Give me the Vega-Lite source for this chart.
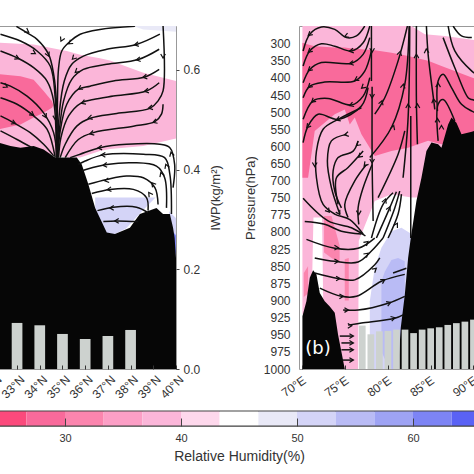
{
"$schema":"https://vega.github.io/schema/vega-lite/v6.json",
"padding":{"left":-25,"top":25,"right":0,"bottom":0},
"background":"white",
"config":{"font":"Liberation Sans","view":{"stroke":"#999"},"axis":{"grid":false,"domain":false,"labelColor":"#333","titleColor":"#333","titleFontWeight":"normal","labelFontSize":12,"titleFontSize":13,"tickColor":"#444"}},
"datasets":{
"a_shade":[
{"id":"a1","rh":36.67,"lat":32.2,"p":297,"p2":614},{"id":"a1","rh":36.67,"lat":33.73,"p":302,"p2":614},{"id":"a1","rh":36.67,"lat":35.19,"p":321,"p2":633},{"id":"a1","rh":36.67,"lat":35.78,"p":332,"p2":633},{"id":"a1","rh":36.67,"lat":36.65,"p":342,"p2":614},{"id":"a1","rh":36.67,"lat":37.09,"p":349,"p2":608},{"id":"a1","rh":36.67,"lat":38.56,"p":385,"p2":599},{"id":"a1","rh":36.67,"lat":40,"p":409,"p2":577},
{"id":"a2","rh":26.67,"lat":32.2,"p":389,"p2":550},{"id":"a2","rh":26.67,"lat":33.15,"p":395,"p2":536},{"id":"a2","rh":26.67,"lat":33.73,"p":405,"p2":516},{"id":"a2","rh":26.67,"lat":34.17,"p":438,"p2":502},{"id":"a2","rh":26.67,"lat":34.54,"p":468,"p2":487},{"id":"a2","rh":26.67,"lat":34.6,"p":480,"p2":480},
{"id":"a3","rh":50,"lat":36.44,"p":750,"p2":770},{"id":"a3","rh":50,"lat":36.8,"p":750,"p2":800},{"id":"a3","rh":50,"lat":37.2,"p":750,"p2":805},{"id":"a3","rh":50,"lat":37.8,"p":750,"p2":795},{"id":"a3","rh":50,"lat":38.5,"p":750,"p2":770},{"id":"a3","rh":50,"lat":39.1,"p":750,"p2":750},
{"id":"a4","rh":50,"lat":39.7,"p":770,"p2":820},{"id":"a4","rh":50,"lat":40,"p":780,"p2":830},
{"id":"a5","rh":60,"lat":39.87,"p":800,"p2":809},{"id":"a5","rh":60,"lat":40,"p":805,"p2":838},
{"id":"a6","rh":46.67,"lat":38.12,"p":248,"p2":248},{"id":"a6","rh":46.67,"lat":38.56,"p":248,"p2":258},{"id":"a6","rh":46.67,"lat":40,"p":248,"p2":265}
],
"a_terrain":[
{"lat":32.2,"p":589},{"lat":32.71,"p":599},{"lat":33.15,"p":604},{"lat":33.73,"p":599},{"lat":34.17,"p":609},{"lat":34.68,"p":633},{"lat":35.63,"p":633},{"lat":35.85,"p":653},{"lat":36.14,"p":711},{"lat":36.44,"p":765},{"lat":36.95,"p":801},{"lat":37.31,"p":803},{"lat":37.97,"p":794},{"lat":38.41,"p":774},{"lat":39.14,"p":765},{"lat":39.43,"p":774},{"lat":39.73,"p":774},{"lat":39.87,"p":794},{"lat":39.94,"p":809},{"lat":40,"p":838}
],
"a_lines":[
{"id":1,"lat":38.19,"p":249},{"id":1,"lat":36.65,"p":258},{"id":1,"lat":35.78,"p":272},{"id":1,"lat":35.27,"p":297},{"id":1,"lat":34.97,"p":321},{"id":1,"lat":34.83,"p":370},{"id":1,"lat":34.78,"p":467},{"id":1,"lat":34.75,"p":633},
{"id":2,"lat":39.29,"p":272},{"id":2,"lat":38.26,"p":302},{"id":2,"lat":36.95,"p":316},{"id":2,"lat":35.92,"p":336},{"id":2,"lat":35.41,"p":360},{"id":2,"lat":35.08,"p":409},{"id":2,"lat":34.87,"p":497},{"id":2,"lat":34.78,"p":633},
{"id":3,"lat":39.26,"p":316},{"id":3,"lat":38.34,"p":346},{"id":3,"lat":36.95,"p":360},{"id":3,"lat":35.92,"p":375},{"id":3,"lat":35.41,"p":404},{"id":3,"lat":35.05,"p":467},{"id":3,"lat":34.86,"p":555},{"id":3,"lat":34.78,"p":633},
{"id":4,"lat":39.26,"p":375},{"id":4,"lat":38.63,"p":397},{"id":4,"lat":37.24,"p":409},{"id":4,"lat":36.22,"p":424},{"id":4,"lat":35.7,"p":433},{"id":4,"lat":35.19,"p":477},{"id":4,"lat":34.9,"p":555},{"id":4,"lat":34.8,"p":633},
{"id":5,"lat":39.26,"p":414},{"id":5,"lat":38.7,"p":438},{"id":5,"lat":37.24,"p":453},{"id":5,"lat":36.36,"p":463},{"id":5,"lat":35.85,"p":472},{"id":5,"lat":35.27,"p":511},{"id":5,"lat":34.93,"p":575},{"id":5,"lat":34.83,"p":633},
{"id":6,"lat":39.43,"p":248},{"id":6,"lat":39.43,"p":438},{"id":6,"lat":39.21,"p":467},{"id":6,"lat":38.85,"p":489},{"id":6,"lat":37.39,"p":504},{"id":6,"lat":36.22,"p":518},{"id":6,"lat":35.63,"p":541},{"id":6,"lat":35.12,"p":594},{"id":6,"lat":34.9,"p":633},
{"id":7,"lat":39.43,"p":477},{"id":7,"lat":39.36,"p":506},{"id":7,"lat":39.07,"p":528},{"id":7,"lat":38.12,"p":541},{"id":7,"lat":36.36,"p":560},{"id":7,"lat":35.7,"p":580},{"id":7,"lat":35.12,"p":633},
{"id":8,"lat":39.87,"p":721},{"id":8,"lat":39.94,"p":653},{"id":8,"lat":39.73,"p":604},{"id":8,"lat":39.29,"p":594},{"id":8,"lat":37.82,"p":594},{"id":8,"lat":36.65,"p":604},{"id":8,"lat":35.78,"p":623},{"id":8,"lat":35.34,"p":633},
{"id":9,"lat":39.8,"p":774},{"id":9,"lat":39.73,"p":682},{"id":9,"lat":39.5,"p":633},{"id":9,"lat":38.56,"p":623},{"id":9,"lat":36.8,"p":625},{"id":9,"lat":36,"p":643},{"id":9,"lat":35.7,"p":653},
{"id":10,"lat":39.58,"p":765},{"id":10,"lat":39.5,"p":692},{"id":10,"lat":39.14,"p":658},{"id":10,"lat":38.12,"p":648},{"id":10,"lat":36.95,"p":653},{"id":10,"lat":36.07,"p":667},{"id":10,"lat":35.85,"p":672},
{"id":11,"lat":39.21,"p":760},{"id":11,"lat":39.07,"p":721},{"id":11,"lat":38.56,"p":692},{"id":11,"lat":37.82,"p":687},{"id":11,"lat":36.95,"p":697},{"id":11,"lat":36.14,"p":711},
{"id":12,"lat":38.77,"p":769},{"id":12,"lat":38.7,"p":750},{"id":12,"lat":38.12,"p":726},{"id":12,"lat":37.09,"p":726},{"id":12,"lat":36.29,"p":738},
{"id":13,"lat":38.77,"p":772},{"id":13,"lat":38.26,"p":764},{"id":13,"lat":37.24,"p":764},{"id":13,"lat":36.54,"p":769},
{"id":14,"lat":38.34,"p":785},{"id":14,"lat":37.39,"p":784},{"id":14,"lat":36.8,"p":785},
{"id":15,"lat":32.97,"p":249},{"id":15,"lat":33.44,"p":268},{"id":15,"lat":33.88,"p":287},{"id":15,"lat":34.39,"p":331},{"id":15,"lat":34.61,"p":389},{"id":15,"lat":34.73,"p":467},{"id":15,"lat":34.75,"p":633},
{"id":16,"lat":32.27,"p":272},{"id":16,"lat":33.15,"p":292},{"id":16,"lat":33.88,"p":321},{"id":16,"lat":34.46,"p":365},{"id":16,"lat":34.68,"p":458},{"id":16,"lat":34.75,"p":633},
{"id":17,"lat":32.27,"p":321},{"id":17,"lat":33,"p":341},{"id":17,"lat":33.73,"p":370},{"id":17,"lat":34.32,"p":409},{"id":17,"lat":34.61,"p":467},{"id":17,"lat":34.73,"p":633},
{"id":18,"lat":32.27,"p":414},{"id":18,"lat":32.71,"p":424},{"id":18,"lat":33.44,"p":453},{"id":18,"lat":34.17,"p":502},{"id":18,"lat":34.61,"p":560},{"id":18,"lat":34.75,"p":633},
{"id":19,"lat":32.27,"p":458},{"id":19,"lat":33,"p":477},{"id":19,"lat":33.73,"p":511},{"id":19,"lat":34.32,"p":550},{"id":19,"lat":34.68,"p":633},
{"id":20,"lat":32.27,"p":511},{"id":20,"lat":32.85,"p":531},{"id":20,"lat":33.58,"p":560},{"id":20,"lat":34.17,"p":594},{"id":20,"lat":34.61,"p":628},
{"id":21,"lat":32.27,"p":555},{"id":21,"lat":33,"p":580},{"id":21,"lat":33.66,"p":604}
],
"a_arrows":[
{"lat":38.26,"p":302,"dir":260},{"lat":38.34,"p":346,"dir":260},{"lat":38.63,"p":397,"dir":258},{"lat":38.7,"p":438,"dir":258},{"lat":38.88,"p":487,"dir":258},{"lat":39.07,"p":528,"dir":250},{"lat":39.43,"p":336,"dir":180},{"lat":33.44,"p":263,"dir":125},{"lat":33.73,"p":326,"dir":120},{"lat":33,"p":341,"dir":115},{"lat":32.49,"p":424,"dir":115},{"lat":33.66,"p":506,"dir":125},{"lat":32.85,"p":531,"dir":115},{"lat":34.36,"p":331,"dir":155},{"lat":34.97,"p":287,"dir":205},{"lat":35.34,"p":297,"dir":235},{"lat":35.5,"p":341,"dir":225},{"lat":35.63,"p":380,"dir":230},{"lat":35.78,"p":430,"dir":240},{"lat":35.92,"p":472,"dir":250},{"lat":36.22,"p":516,"dir":255},{"lat":36.29,"p":562,"dir":255},{"lat":36.65,"p":604,"dir":265},{"lat":36.8,"p":625,"dir":270},{"lat":36.87,"p":655,"dir":265},{"lat":36.95,"p":700,"dir":260},{"lat":37.06,"p":726,"dir":265},{"lat":37.17,"p":765,"dir":270},{"lat":37.39,"p":784,"dir":270},{"lat":34.24,"p":511,"dir":150},{"lat":34.68,"p":516,"dir":180},{"lat":39.8,"p":623,"dir":345},{"lat":39.58,"p":658,"dir":340},{"lat":39.36,"p":682,"dir":340},{"lat":38.99,"p":711,"dir":320},{"lat":38.85,"p":740,"dir":325}
],
"a_bars":[{"lat":33,"iwp":0.0924},{"lat":34,"iwp":0.0877},{"lat":35,"iwp":0.0703},{"lat":36,"iwp":0.0602},{"lat":37,"iwp":0.0663},{"lat":38,"iwp":0.0783}],
"b_shade":[
{"id":"b1","rh":36.67,"lon":70,"p":248,"p2":920},{"id":"b1","rh":36.67,"lon":71.05,"p":248,"p2":920},{"id":"b1","rh":36.67,"lon":71.29,"p":248,"p2":779},{"id":"b1","rh":36.67,"lon":72.3,"p":248,"p2":779},{"id":"b1","rh":36.67,"lon":72.53,"p":248,"p2":1000},{"id":"b1","rh":36.67,"lon":76.51,"p":248,"p2":1000},{"id":"b1","rh":36.67,"lon":76.59,"p":248,"p2":813},{"id":"b1","rh":36.67,"lon":77.68,"p":248,"p2":779},{"id":"b1","rh":36.67,"lon":78.46,"p":248,"p2":755},{"id":"b1","rh":36.67,"lon":80.41,"p":248,"p2":740},{"id":"b1","rh":36.67,"lon":82.75,"p":248,"p2":750},{"id":"b1","rh":36.67,"lon":84.31,"p":272,"p2":750},{"id":"b1","rh":36.67,"lon":86.65,"p":277,"p2":750},{"id":"b1","rh":36.67,"lon":91,"p":292,"p2":750},
{"id":"b2","rh":26.67,"lon":70,"p":297,"p2":692},{"id":"b2","rh":26.67,"lon":70.66,"p":302,"p2":692},{"id":"b2","rh":26.67,"lon":71.44,"p":307,"p2":555},{"id":"b2","rh":26.67,"lon":73.78,"p":311,"p2":506},{"id":"b2","rh":26.67,"lon":74.95,"p":311,"p2":492},{"id":"b2","rh":26.67,"lon":75.54,"p":313,"p2":536},{"id":"b2","rh":26.67,"lon":76.12,"p":314,"p2":516},{"id":"b2","rh":26.67,"lon":76.9,"p":316,"p2":565},{"id":"b2","rh":26.67,"lon":78.46,"p":319,"p2":628},{"id":"b2","rh":26.67,"lon":80.41,"p":326,"p2":614},{"id":"b2","rh":26.67,"lon":82.36,"p":336,"p2":604},{"id":"b2","rh":26.67,"lon":84.7,"p":350,"p2":584},{"id":"b2","rh":26.67,"lon":86.26,"p":365,"p2":594},{"id":"b2","rh":26.67,"lon":89.81,"p":399,"p2":565},{"id":"b2","rh":26.67,"lon":91,"p":409,"p2":565},
{"id":"b3","rh":30,"lon":72.53,"p":777,"p2":830},{"id":"b3","rh":30,"lon":73.4,"p":777,"p2":838},{"id":"b3","rh":30,"lon":74.35,"p":820,"p2":845},
{"id":"b4","rh":30,"lon":70.16,"p":860,"p2":895},{"id":"b4","rh":30,"lon":70.66,"p":850,"p2":890},
{"id":"b5","rh":30,"lon":74.95,"p":840,"p2":900},{"id":"b5","rh":30,"lon":75.42,"p":838,"p2":900},
{"id":"b6","rh":50,"lon":77.88,"p":901,"p2":1000},{"id":"b6","rh":50,"lon":78.46,"p":852,"p2":1000},{"id":"b6","rh":50,"lon":79.24,"p":823,"p2":1000},{"id":"b6","rh":50,"lon":80.41,"p":799,"p2":1000},{"id":"b6","rh":50,"lon":81.58,"p":794,"p2":1000},{"id":"b6","rh":50,"lon":82.75,"p":803,"p2":1000},
{"id":"b7","rh":53.33,"lon":79.24,"p":872,"p2":975},{"id":"b7","rh":53.33,"lon":79.63,"p":858,"p2":985},{"id":"b7","rh":53.33,"lon":80.41,"p":841,"p2":1000},{"id":"b7","rh":53.33,"lon":81.19,"p":838,"p2":1000},{"id":"b7","rh":53.33,"lon":81.97,"p":843,"p2":1000}
],
"b_terrain":[
{"id":1,"lon":70,"p":923},{"id":1,"lon":70.47,"p":901},{"id":1,"lon":70.86,"p":867},{"id":1,"lon":71.25,"p":856},{"id":1,"lon":71.64,"p":862},{"id":1,"lon":72.03,"p":889},{"id":1,"lon":72.61,"p":901},{"id":1,"lon":73.2,"p":909},{"id":1,"lon":73.78,"p":918},{"id":1,"lon":74.17,"p":950},{"id":1,"lon":74.95,"p":1000},
{"id":2,"lon":81.19,"p":1000},{"id":2,"lon":81.5,"p":940},{"id":2,"lon":81.97,"p":892},{"id":2,"lon":82.36,"p":838},{"id":2,"lon":82.67,"p":809},{"id":2,"lon":83.33,"p":755},{"id":2,"lon":83.92,"p":692},{"id":2,"lon":84.5,"p":614},{"id":2,"lon":85.09,"p":589},{"id":2,"lon":85.87,"p":594},{"id":2,"lon":86.26,"p":604},{"id":2,"lon":87.04,"p":536},{"id":2,"lon":87.43,"p":516},{"id":2,"lon":88.01,"p":531},{"id":2,"lon":88.6,"p":565},{"id":2,"lon":89.81,"p":557},{"id":2,"lon":91,"p":550}
],
"b_lines":[
{"id":1,"lon":70.08,"p":321},{"id":1,"lon":70.86,"p":272},{"id":1,"lon":72.22,"p":251},{"id":1,"lon":73.78,"p":258},{"id":1,"lon":75.15,"p":282},{"id":1,"lon":76.32,"p":277},{"id":1,"lon":77.29,"p":248},
{"id":2,"lon":70.08,"p":365},{"id":2,"lon":70.86,"p":321},{"id":2,"lon":72.22,"p":300},{"id":2,"lon":73.78,"p":307},{"id":2,"lon":75.73,"p":321},{"id":2,"lon":77.1,"p":297},{"id":2,"lon":77.88,"p":248},
{"id":3,"lon":70.08,"p":414},{"id":3,"lon":70.86,"p":375},{"id":3,"lon":72.22,"p":355},{"id":3,"lon":75.73,"p":357},{"id":3,"lon":77.1,"p":331},{"id":3,"lon":77.88,"p":282},
{"id":4,"lon":70.08,"p":458},{"id":4,"lon":70.86,"p":424},{"id":4,"lon":72.61,"p":412},{"id":4,"lon":76.12,"p":409},{"id":4,"lon":77.29,"p":380},{"id":4,"lon":78.07,"p":321},
{"id":5,"lon":70.08,"p":521},{"id":5,"lon":71.25,"p":467},{"id":5,"lon":73,"p":460},{"id":5,"lon":75.73,"p":479},{"id":5,"lon":77.1,"p":453},{"id":5,"lon":77.88,"p":399},
{"id":6,"lon":70.08,"p":589},{"id":6,"lon":70.66,"p":541},{"id":6,"lon":71.83,"p":506},{"id":6,"lon":74.17,"p":521},{"id":6,"lon":76.9,"p":482},{"id":6,"lon":77.68,"p":428},
{"id":7,"lon":78.07,"p":248},{"id":7,"lon":78.07,"p":409},
{"id":8,"lon":78.15,"p":426},{"id":8,"lon":78.15,"p":643},{"id":8,"lon":78.27,"p":784},
{"id":9,"lon":76.9,"p":487},{"id":9,"lon":74.17,"p":521},{"id":9,"lon":72.42,"p":550},{"id":9,"lon":71.64,"p":614},{"id":9,"lon":71.64,"p":692},{"id":9,"lon":72.42,"p":760},{"id":9,"lon":73.78,"p":774},{"id":9,"lon":75.54,"p":782},{"id":9,"lon":77.1,"p":803},
{"id":10,"lon":75.15,"p":565},{"id":10,"lon":73.39,"p":584},{"id":10,"lon":72.92,"p":643},{"id":10,"lon":73.39,"p":721},{"id":10,"lon":74.37,"p":774},
{"id":11,"lon":76.51,"p":584},{"id":11,"lon":75.93,"p":614},{"id":11,"lon":74.17,"p":633},{"id":11,"lon":73.59,"p":672},{"id":11,"lon":73.78,"p":731},{"id":11,"lon":74.56,"p":765},
{"id":12,"lon":77.1,"p":614},{"id":12,"lon":75.34,"p":662},{"id":12,"lon":73.98,"p":692},{"id":12,"lon":74.17,"p":760},
{"id":13,"lon":77.49,"p":653},{"id":13,"lon":76.12,"p":701},{"id":13,"lon":74.95,"p":760},{"id":13,"lon":75.34,"p":779},
{"id":14,"lon":78.15,"p":653},{"id":14,"lon":77.1,"p":721},{"id":14,"lon":76.51,"p":765},{"id":14,"lon":76.59,"p":789},
{"id":15,"lon":70.08,"p":751},{"id":15,"lon":73,"p":784},{"id":15,"lon":75.73,"p":794},{"id":15,"lon":77.37,"p":806},
{"id":16,"lon":70.27,"p":785},{"id":16,"lon":72.61,"p":789},{"id":16,"lon":74.56,"p":799},{"id":16,"lon":76.9,"p":803},
{"id":17,"lon":70.47,"p":811},{"id":17,"lon":73.78,"p":824},{"id":17,"lon":76.51,"p":824},{"id":17,"lon":78.46,"p":809},
{"id":18,"lon":71.44,"p":838},{"id":18,"lon":73.78,"p":843},{"id":18,"lon":76.51,"p":844},{"id":18,"lon":78.07,"p":828},{"id":18,"lon":79.43,"p":809},
{"id":19,"lon":71.44,"p":860},{"id":19,"lon":74.17,"p":868},{"id":19,"lon":76.12,"p":870},{"id":19,"lon":78.46,"p":848},{"id":19,"lon":79.05,"p":838},
{"id":20,"lon":72.03,"p":882},{"id":20,"lon":74.56,"p":894},{"id":20,"lon":76.32,"p":894},{"id":20,"lon":79.24,"p":872},{"id":20,"lon":81.97,"p":862},
{"id":21,"lon":74.76,"p":914},{"id":21,"lon":76.51,"p":914},{"id":21,"lon":80.02,"p":904},{"id":21,"lon":81.97,"p":894},
{"id":22,"lon":75.34,"p":936},{"id":22,"lon":76.9,"p":933},{"id":22,"lon":80.8,"p":926},{"id":22,"lon":81.77,"p":921},
{"id":23,"lon":80.6,"p":860},{"id":23,"lon":82.16,"p":853},
{"id":24,"lon":74.37,"p":952},{"id":24,"lon":75.93,"p":952},
{"id":25,"lon":74.56,"p":962},{"id":25,"lon":75.93,"p":962},
{"id":26,"lon":74.56,"p":972},{"id":26,"lon":75.93,"p":972},
{"id":27,"lon":74.56,"p":987},{"id":27,"lon":75.93,"p":987},
{"id":28,"lon":78.46,"p":506},{"id":28,"lon":79.63,"p":458},{"id":28,"lon":81.19,"p":350},{"id":28,"lon":82.28,"p":248},
{"id":29,"lon":77.88,"p":633},{"id":29,"lon":80.41,"p":545},{"id":29,"lon":81.97,"p":419},{"id":29,"lon":82.48,"p":248},
{"id":30,"lon":78.85,"p":750},{"id":30,"lon":81.19,"p":623},{"id":30,"lon":81.97,"p":555},
{"id":31,"lon":82.67,"p":511},{"id":31,"lon":82.67,"p":809},
{"id":32,"lon":82.55,"p":248},{"id":32,"lon":82.36,"p":516},{"id":32,"lon":81.77,"p":692},
{"id":33,"lon":83.33,"p":248},{"id":33,"lon":83.33,"p":467},{"id":33,"lon":83.45,"p":594},
{"id":34,"lon":84.5,"p":248},{"id":34,"lon":84.7,"p":331},{"id":34,"lon":85.36,"p":467},{"id":34,"lon":85.48,"p":492},
{"id":35,"lon":85.79,"p":497},{"id":35,"lon":85.87,"p":409},{"id":35,"lon":86.45,"p":389},{"id":35,"lon":87.43,"p":428},{"id":35,"lon":88.6,"p":477},{"id":35,"lon":89.81,"p":497},{"id":35,"lon":91,"p":510},
{"id":36,"lon":85.87,"p":584},{"id":36,"lon":85.87,"p":477},{"id":36,"lon":86.45,"p":463},{"id":36,"lon":87.82,"p":526},
{"id":37,"lon":86.45,"p":282},{"id":37,"lon":87.82,"p":370},{"id":37,"lon":89.38,"p":458},{"id":37,"lon":89.81,"p":463},{"id":37,"lon":91,"p":470},
{"id":38,"lon":87.04,"p":248},{"id":38,"lon":87.82,"p":321},{"id":38,"lon":89.81,"p":380},{"id":38,"lon":91,"p":400},
{"id":39,"lon":87.62,"p":248},{"id":39,"lon":88.6,"p":277},{"id":39,"lon":89.81,"p":282},
{"id":40,"lon":78.07,"p":809},{"id":40,"lon":79.43,"p":760},{"id":40,"lon":80.6,"p":736},
{"id":41,"lon":78.65,"p":809},{"id":41,"lon":80.21,"p":765},{"id":41,"lon":80.99,"p":733},
{"id":42,"lon":79.43,"p":809},{"id":42,"lon":80.8,"p":765},{"id":42,"lon":81.38,"p":731},
{"id":43,"lon":80.02,"p":809},{"id":43,"lon":81.19,"p":774},{"id":43,"lon":81.58,"p":740}
],
"b_arrows":[
{"lon":70.86,"p":272,"dir":230},{"lon":70.86,"p":321,"dir":230},{"lon":70.86,"p":375,"dir":230},{"lon":70.86,"p":424,"dir":230},{"lon":71.25,"p":467,"dir":230},{"lon":70.66,"p":541,"dir":220},{"lon":75.15,"p":277,"dir":250},{"lon":75.73,"p":321,"dir":260},{"lon":75.73,"p":357,"dir":260},{"lon":76.32,"p":404,"dir":240},{"lon":77.1,"p":426,"dir":230},{"lon":75.73,"p":479,"dir":250},{"lon":74.17,"p":521,"dir":250},{"lon":75.15,"p":565,"dir":260},{"lon":76.51,"p":594,"dir":230},{"lon":76.73,"p":628,"dir":230},{"lon":77.37,"p":653,"dir":220},{"lon":78.15,"p":319,"dir":180},{"lon":78.15,"p":453,"dir":180},{"lon":78.15,"p":643,"dir":180},{"lon":71.44,"p":653,"dir":180},{"lon":73,"p":769,"dir":140},{"lon":74.25,"p":772,"dir":150},{"lon":76.59,"p":772,"dir":180},
{"lon":79.24,"p":472,"dir":20},{"lon":81.38,"p":328,"dir":15},{"lon":80.6,"p":545,"dir":20},{"lon":81.77,"p":424,"dir":10},{"lon":82.36,"p":482,"dir":0},{"lon":83.45,"p":482,"dir":0},{"lon":83.33,"p":336,"dir":0},{"lon":84.5,"p":321,"dir":355},{"lon":85.36,"p":467,"dir":350},{"lon":85.87,"p":421,"dir":0},{"lon":85.79,"p":524,"dir":0},{"lon":86.26,"p":545,"dir":0},{"lon":79.63,"p":755,"dir":20},{"lon":80.13,"p":766,"dir":25},{"lon":80.99,"p":790,"dir":30},
{"lon":73.98,"p":823,"dir":90},{"lon":77.49,"p":816,"dir":50},{"lon":73.98,"p":843,"dir":90},{"lon":77.49,"p":833,"dir":50},{"lon":74.17,"p":868,"dir":90},{"lon":78.46,"p":855,"dir":50},{"lon":74.56,"p":894,"dir":90},{"lon":79.43,"p":871,"dir":60},{"lon":75.15,"p":914,"dir":90},{"lon":80.1,"p":904,"dir":70},{"lon":75.54,"p":937,"dir":90},{"lon":80.6,"p":926,"dir":75},{"lon":75.73,"p":952,"dir":90},{"lon":75.73,"p":962,"dir":90},{"lon":75.73,"p":972,"dir":90},{"lon":75.73,"p":987,"dir":90}
],
"b_bars":[{"lon":77,"iwp":0.087},{"lon":78,"iwp":0.0696},{"lon":79,"iwp":0.0756},{"lon":80,"iwp":0.0763},{"lon":81,"iwp":0.079},{"lon":82,"iwp":0.079},{"lon":83,"iwp":0.072},{"lon":84,"iwp":0.079},{"lon":85,"iwp":0.0816},{"lon":86,"iwp":0.0837},{"lon":87,"iwp":0.0884},{"lon":88,"iwp":0.092},{"lon":89,"iwp":0.095},{"lon":90,"iwp":0.099}],
"colorbar":[{"lo":23.33,"hi":26.67},{"lo":26.67,"hi":30},{"lo":30,"hi":33.33},{"lo":33.33,"hi":36.67},{"lo":36.67,"hi":40},{"lo":40,"hi":43.33},{"lo":43.33,"hi":46.67},{"lo":46.67,"hi":50},{"lo":50,"hi":53.33},{"lo":53.33,"hi":56.67},{"lo":56.67,"hi":60},{"lo":60,"hi":63.33},{"lo":63.33,"hi":66.67}]
},
"vconcat":[
{"hconcat":[
{"width":193,"height":343,
 "encoding":{"x":{"field":"lat","type":"quantitative","title":null,"scale":{"domain":[31.5,40],"nice":false,"zero":false,"padding":0},"axis":{"values":[32,33,34,35,36,37,38,39,40],"labelExpr":"datum.value+'°N'","labelAngle":-45,"labelAlign":"center","labelBaseline":"top","labelPadding":18,"labelOffset":-8,"labelOverlap":false,"labelBound":false,"tickSize":-4,"tickColor":"#333","zindex":1}}},
 "layer":[
  {"encoding":{"y":{"field":"p","type":"quantitative","title":null,"axis":null,"scale":{"domain":[248,750,1000],"range":[0,171.6,343],"nice":false,"zero":false}}},
   "layer":[
    {"data":{"name":"a_shade"},"mark":{"type":"area","clip":true},"encoding":{"y2":{"field":"p2"},"detail":{"field":"id"},"color":{"field":"rh","type":"ordinal","legend":null,"scale":{"domain":[23.33,26.67,30,33.33,36.67,40,43.33,46.67,50,53.33,56.67,60,63.33],"range":["#fb4a7c","#f96a9b","#fb85ae","#fc9fc6","#fbb6d9","#fed8ec","#ffffff","#e9e9f7","#d4d4f7","#b9bbf5","#9ea3f4","#7d84f5","#5a62f5"]}}}},
    {"data":{"name":"a_terrain"},"mark":{"type":"area","color":"#060606","clip":true},"encoding":{"y2":{"datum":1000}}},
    {"data":{"name":"a_lines"},"mark":{"type":"line","order":null,"color":"#111","strokeWidth":1.5,"interpolate":"catmull-rom","clip":true},"encoding":{"detail":{"field":"id"}}},
    {"data":{"name":"a_arrows"},"mark":{"type":"point","shape":"M-0.7,0.6L0,-0.6L0.7,0.6","filled":false,"stroke":"#111","strokeWidth":1.2,"size":45,"opacity":1,"clip":true},"encoding":{"angle":{"field":"dir","type":"quantitative","scale":null}}}
   ]},
  {"data":{"name":"a_bars"},"mark":{"type":"bar","orient":"vertical","size":10.7,"color":"#cdd2cf"},"encoding":{"y":{"field":"iwp","type":"quantitative","title":"IWP(kg/m²)","scale":{"domain":[0,0.688],"nice":false},"axis":{"orient":"right","values":[0,0.2,0.4,0.6],"tickSize":3,"labelPadding":4,"titlePadding":23,"titleAngle":270}},"y2":{"datum":0}}}
 ],
 "resolve":{"scale":{"y":"independent"}}
},
{"width":183,"height":343,
 "encoding":{"x":{"field":"lon","type":"quantitative","title":null,"scale":{"domain":[69.6,91],"nice":false,"zero":false,"padding":0},"axis":{"values":[70,75,80,85,90],"labelExpr":"datum.value+'°E'","labelAngle":-35,"labelAlign":"center","labelBaseline":"top","labelPadding":17,"labelOffset":-12,"labelOverlap":false,"labelBound":false,"tickSize":-4,"tickColor":"#333","zindex":1}}},
 "layer":[
  {"encoding":{"y":{"field":"p","type":"quantitative","title":"Pressure(hPa)","scale":{"domain":[248,750,1000],"range":[0,171.6,343],"nice":false,"zero":false},"axis":{"values":[300,350,400,450,500,550,600,650,700,750,775,800,825,850,875,900,925,950,975,1000],"labelExpr":"''+datum.value","tickSize":0,"labelPadding":9,"labelOverlap":false,"labelFontSize":12,"titlePadding":6}}},
   "layer":[
    {"data":{"name":"b_shade"},"mark":{"type":"area","clip":true},"encoding":{"y2":{"field":"p2"},"detail":{"field":"id"},"color":{"field":"rh","type":"ordinal","legend":null}}},
    {"data":{"name":"b_terrain"},"mark":{"type":"area","color":"#060606","clip":true},"encoding":{"y2":{"datum":1000},"detail":{"field":"id"}}},
    {"data":{"name":"b_lines"},"mark":{"type":"line","order":null,"color":"#111","strokeWidth":1.5,"interpolate":"catmull-rom","clip":true},"encoding":{"detail":{"field":"id"}}},
    {"data":{"name":"b_arrows"},"mark":{"type":"point","shape":"M-0.7,0.6L0,-0.6L0.7,0.6","filled":false,"stroke":"#111","strokeWidth":1.2,"size":45,"opacity":1,"clip":true},"encoding":{"angle":{"field":"dir","type":"quantitative","scale":null}}},
    {"data":{"values":[{"lon":71.83,"p":971,"label":"(b)"}]},"mark":{"type":"text","color":"white","font":"DejaVu Sans","fontSize":18},"encoding":{"text":{"field":"label"}}}
   ]},
  {"data":{"name":"b_bars"},"mark":{"type":"bar","orient":"vertical","size":6.7,"color":"#cdd2cf","clip":true},"encoding":{"y":{"field":"iwp","type":"quantitative","axis":null,"scale":{"domain":[0,0.688],"nice":false}},"y2":{"datum":0}}}
 ],
 "resolve":{"scale":{"y":"independent"}}
}
],"spacing":19},
{"width":530,"height":15,
 "encoding":{"x":{"field":"lo","type":"quantitative","title":"Relative Humidity(%)","scale":{"domain":[22.93,68.62],"nice":false,"zero":false},"axis":{"values":[30,40,50,60],"tickSize":-8,"labelPadding":14,"labelFontSize":11,"titleFontSize":14,"titleX":256,"titlePadding":6,"zindex":1}},"x2":{"field":"hi"}},
 "layer":[
  {"data":{"name":"colorbar"},"mark":{"type":"rect","clip":true},"encoding":{"color":{"field":"lo","type":"ordinal","legend":null}}},
  {"data":{"values":[{"lo":23.33,"hi":66.67}]},"mark":{"type":"rect","fillOpacity":0,"stroke":"#444","strokeWidth":1.2,"clip":false}}
 ]
}
],"spacing":8
}
